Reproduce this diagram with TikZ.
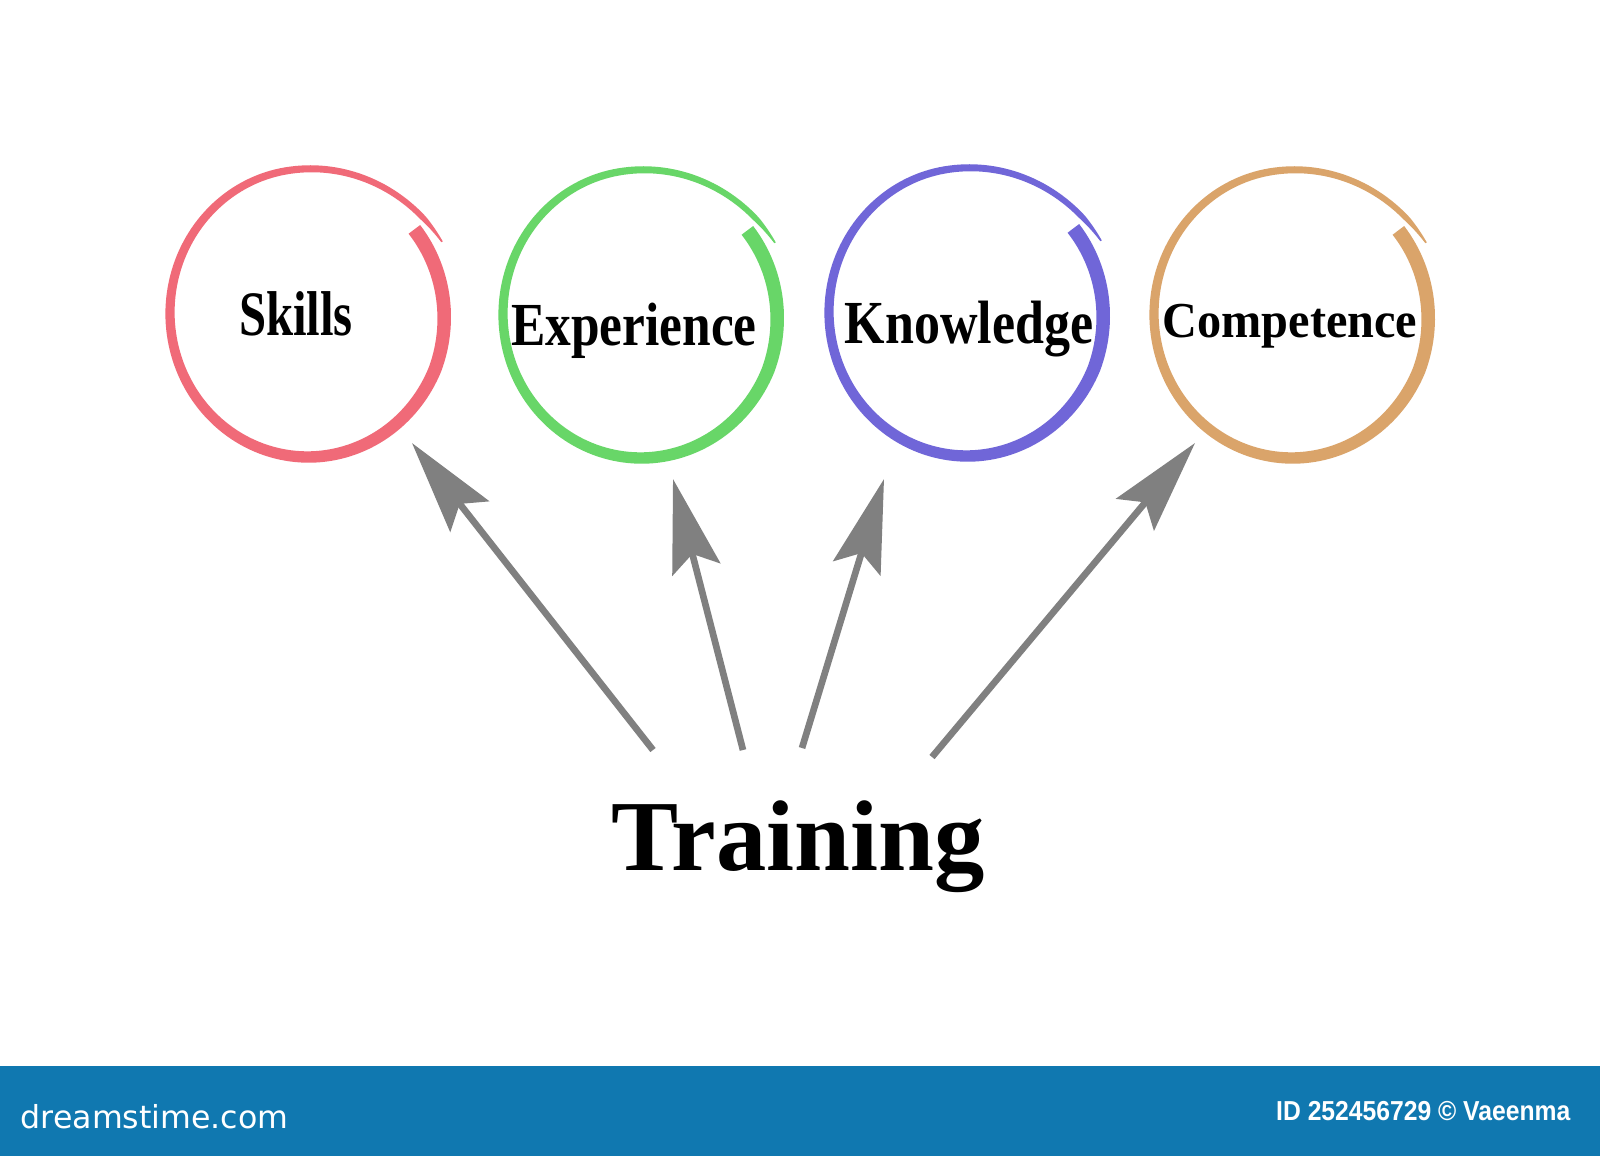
\documentclass[tikz,border=0pt]{standalone}
\usepackage{fontspec}
\setmainfont{Liberation Serif}
\newfontfamily\logofont{DejaVu Sans}
\newfontfamily\idfont{Liberation Sans}
\usetikzlibrary{arrows.meta}
\definecolor{ringred}{RGB}{240,106,120}
\definecolor{ringgreen}{RGB}{104,214,104}
\definecolor{ringpurple}{RGB}{112,102,216}
\definecolor{ringtan}{RGB}{218,164,106}
\definecolor{arrowgray}{RGB}{128,128,128}
\definecolor{barblue}{RGB}{16,120,176}
\tikzset{
  declare function={
    bs(\a)=1+0.09*max(0,(\a-260)/73)*max(0,(\a-260)/73)-0.035*max(0,1-(\a+37)/60);
    bw(\a)=(14.5-9*(\a+37)/370)*min(1,(333-\a)/16+0.3);
  },
  ringnode/.style={circle, minimum size=2.88cm, inner sep=0pt},
  lbl/.style={font=\bfseries, inner sep=0pt, anchor=base, text=black},
  arr/.style={draw=arrowgray, line width=1.9pt,
    -{Stealth[length=26.5pt, width=14pt, inset=4.5pt, fill=arrowgray]}},
}
\newcommand\brushring[2]{%
  \begin{scope}[shift={(#1.center)}]
    \fill[#2] plot[domain=-37:333, samples=180, variable=\a]
      ({(138*bs(\a)+bw(\a)/2)*cos(\a)}, {(144*bs(\a)+bw(\a)/2)*sin(\a)})
      -- plot[domain=333:-37, samples=180, variable=\a]
      ({(138*bs(\a)-bw(\a)/2)*cos(\a)}, {(144*bs(\a)-bw(\a)/2)*sin(\a)})
      -- cycle;
  \end{scope}}
\begin{document}
\begin{tikzpicture}[x=0.01cm, y=-0.01cm]
\useasboundingbox (0,0) rectangle (1600,1156);
\fill[white] (0,0) rectangle (1600,1156);

% circles
\node[ringnode] (skills) at (308,313) {};
\node[ringnode] (experience) at (641,314) {};
\node[ringnode] (knowledge) at (967,312) {};
\node[ringnode] (competence) at (1292,314) {};
\brushring{skills}{ringred}
\brushring{experience}{ringgreen}
\brushring{knowledge}{ringpurple}
\brushring{competence}{ringtan}

% labels
\node[lbl] (skillsT) at (296,335) {\fontsize{18pt}{20pt}\selectfont\scalebox{0.77}[1]{Skills}};
\node[lbl] (experienceT) at (634,345) {\fontsize{17.4pt}{20pt}\selectfont\scalebox{0.84}[1]{Experience}};
\node[lbl] (knowledgeT) at (969,343) {\fontsize{17.4pt}{20pt}\selectfont\scalebox{0.85}[1]{Knowledge}};
\node[lbl] (competenceT) at (1290,337) {\fontsize{14.3pt}{16pt}\selectfont\scalebox{0.96}[1]{Competence}};
\node[lbl] (training) at (798,870) {\fontsize{28.6pt}{32pt}\selectfont Training};

% arrows
\coordinate (s1) at (653,750); \coordinate (e1) at (412,443);
\coordinate (s2) at (743,750); \coordinate (e2) at (673,479);
\coordinate (s3) at (802,748); \coordinate (e3) at (884,479);
\coordinate (s4) at (932,757); \coordinate (e4) at (1195,443);
\draw[arr] (s1) -- (e1);
\draw[arr] (s2) -- (e2);
\draw[arr] (s3) -- (e3);
\draw[arr] (s4) -- (e4);

% bottom bar
\fill[barblue] (0,1066) rectangle (1600,1156);
\node[inner sep=0pt, anchor=base west, text=white] (logo) at (20,1128)
  {\logofont\fontsize{9pt}{10pt}\selectfont dreamstime.com};
\node[inner sep=0pt, anchor=base east, text=white] (imgid) at (1571,1120)
  {\idfont\bfseries\fontsize{7.8pt}{9pt}\selectfont\scalebox{0.9}[1]{ID 252456729 © Vaeenma}};
\end{tikzpicture}
\end{document}
